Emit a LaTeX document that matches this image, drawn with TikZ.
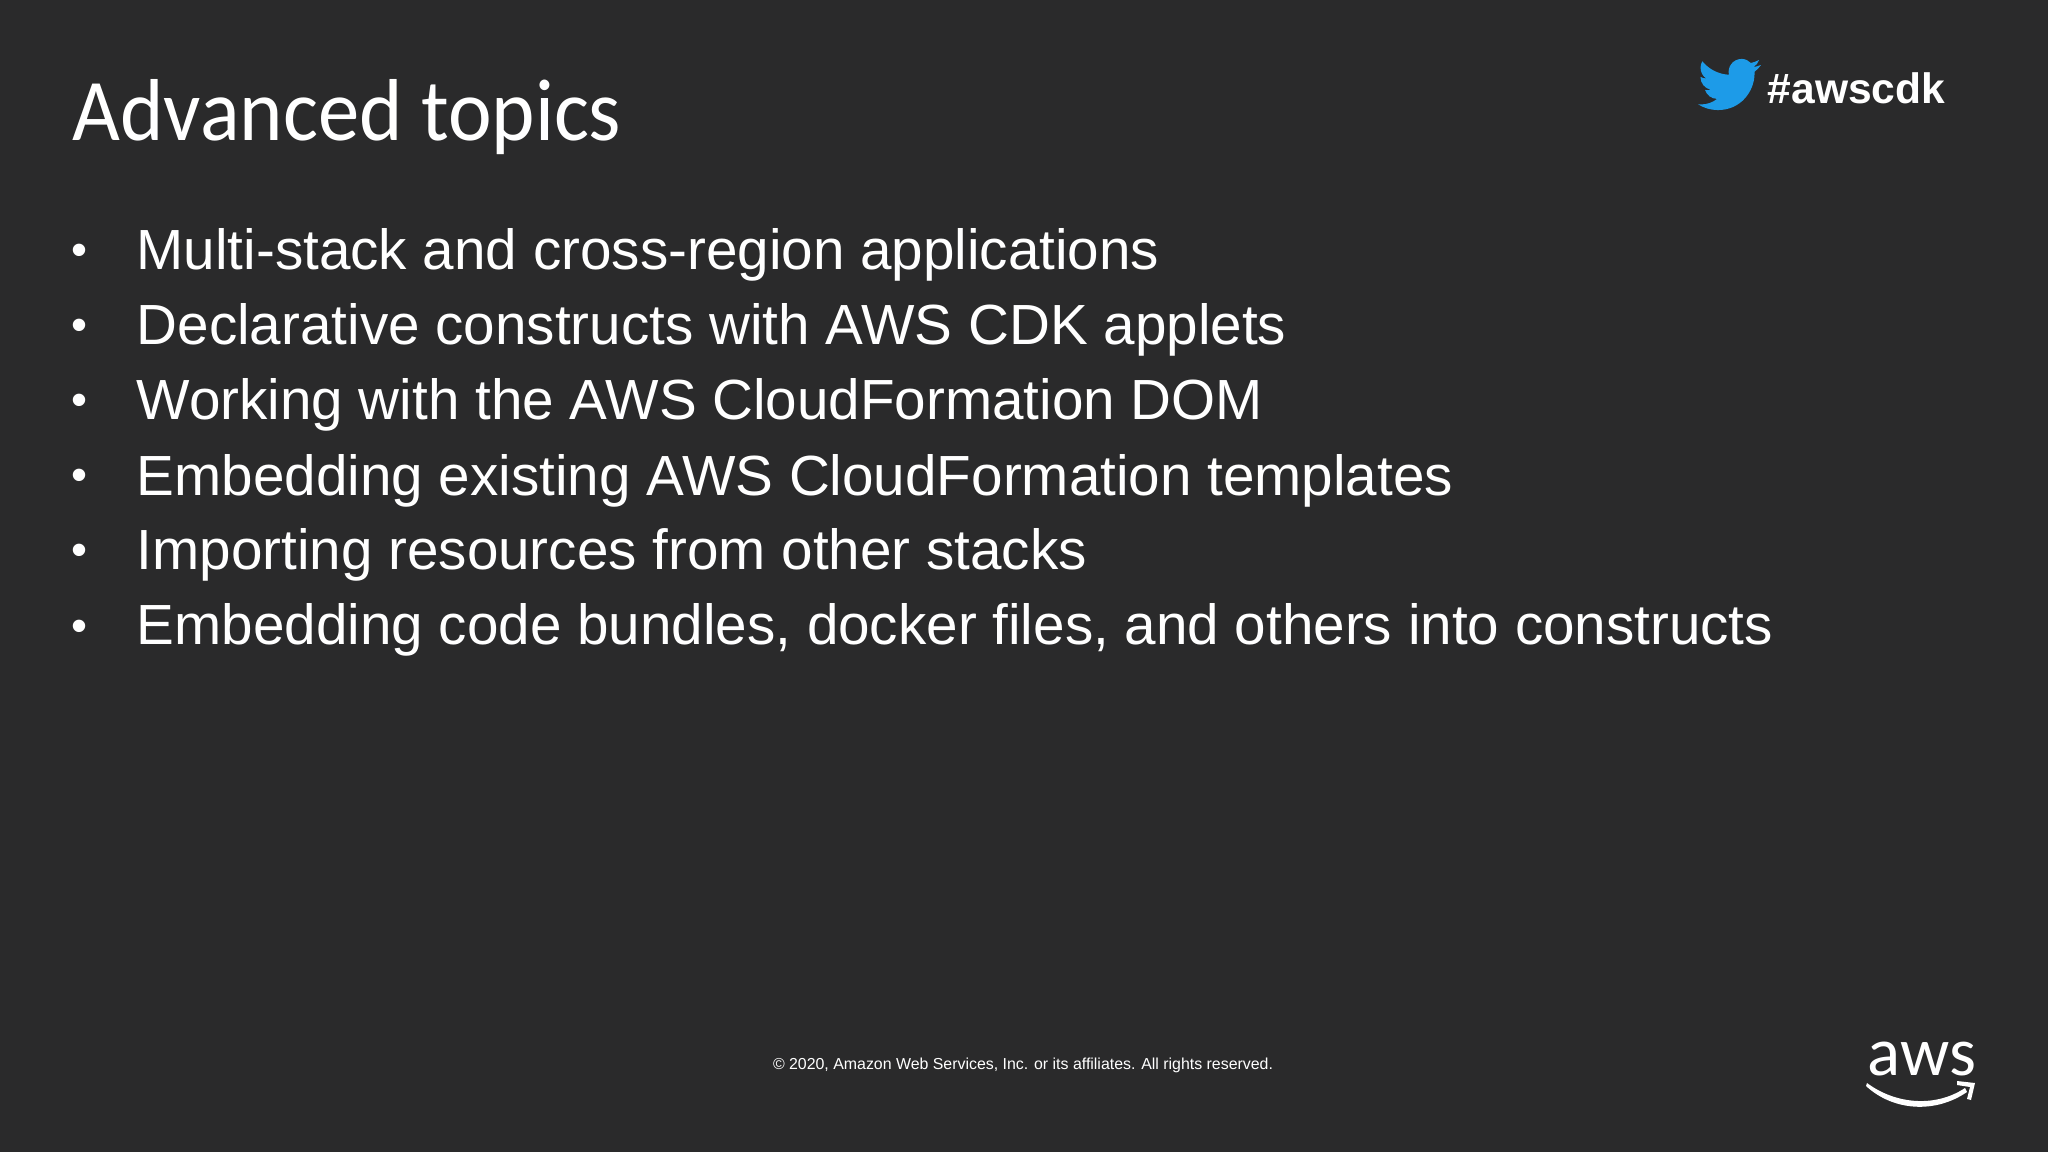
\documentclass[tikz,border=0pt]{standalone}
\usepackage{fontspec}
\setmainfont{Liberation Sans}
\newfontfamily\titlefont[FakeStretch=0.94]{Carlito}
\newfontfamily\logofont{Carlito}
\usetikzlibrary{svg.path}
\definecolor{slidebg}{HTML}{2A2A2B}
\definecolor{birdblue}{HTML}{1D9BE8}
\tikzset{
  item/.style={anchor=base west,inner sep=0,text=white,font=\fontsize{16.1}{20}\selectfont},
  dot/.style={anchor=base,inner sep=0,text=white,font=\fontsize{13}{16}\selectfont},
}
\begin{document}
\begin{tikzpicture}[x=0.01cm,y=-0.01cm]
\fill [slidebg] (0, 0) rectangle (2048, 1152);

\node [anchor=base west,inner sep=0,text=white,font=\titlefont\fontsize{25}{30}\selectfont] (title) at (72, 141) {Advanced topics};

\node [dot] (b1) at (80, 266) {•};
\node [dot] (b2) at (80, 341) {•};
\node [dot] (b3) at (80, 416) {•};
\node [dot] (b4) at (80, 491) {•};
\node [dot] (b5) at (80, 566) {•};
\node [dot] (b6) at (80, 641) {•};

\node [item] (i1) at (136, 270) {Multi-stack and cross-region applications};
\node [item] (i2) at (136, 345) {Declarative constructs with AWS CDK applets};
\node [item] (i3) at (136, 420) {Working with the AWS CloudFormation DOM};
\node [item] (i4) at (136, 495) {Embedding existing AWS CloudFormation templates};
\node [item] (i5) at (136, 570) {Importing resources from other stacks};
\node [item] (i6) at (136, 645) {Embedding code bundles, docker files, and others into constructs};

% bird
\fill [birdblue,shift={(1698,53)},scale=0.746,yscale=-1] svg {M23.953 4.57 C23.07 4.96 22.12 5.23 21.128 5.345 C22.14 4.74 22.92 3.78 23.291 2.622 C22.34 3.177 21.286 3.581 20.164 3.806 C19.27 2.85 18 2.25 16.6 2.25 C13.4 2.3 11.1 5.2 11.78 8.288 C7.69 8.095 4.067 6.13 1.64 3.162 C1.2 3.9 .974 4.75 .974 5.637 C.974 7.347 1.844 8.85 3.162 9.733 C2.35 9.7 1.6 9.48 .934 9.117 L.934 9.177 C.934 11.55 2.63 13.55 4.88 14.004 C4.17 14.2 3.4 14.22 2.668 14.089 C3.3 16.06 5.13 17.46 7.272 17.506 C5.6 18.82 3.47 19.611 1.17 19.611 C.78 19.611 .391 19.588 0 19.544 C2.18 20.94 4.77 21.753 7.557 21.753 C16.61 21.753 21.555 14.257 21.555 7.768 C21.555 7.558 21.555 7.348 21.54 7.138 C22.5 6.44 23.33 5.58 24 4.59 Z};

\node [anchor=base west,inner sep=0,text=white,font=\bfseries\fontsize{12.1}{15}\selectfont] (tag) at (1767, 104) {\#awscdk};

\node [anchor=base,inner sep=0,text=white,font=\fontsize{4.52}{6}\selectfont] (foot) at (1023, 1069) {© 2020, Amazon Web Services, Inc. or its affiliates. All rights reserved.};

% logo
\node [anchor=base,inner sep=0,text=white,font=\logofont\fontsize{19.6}{24}\selectfont] (aws) at (1922, 1075) {aws};
\fill [white] (1867, 1083) .. controls (1895, 1104) and (1935, 1108) .. (1965, 1088) -- (1967, 1092) .. controls (1935, 1114) and (1893, 1111) .. (1866, 1086) -- cycle;
\fill [white] (1957, 1081) -- (1975, 1083) -- (1971, 1100) -- (1967, 1099) -- (1970, 1087) -- (1957, 1085) -- cycle;
\end{tikzpicture}
\end{document}
